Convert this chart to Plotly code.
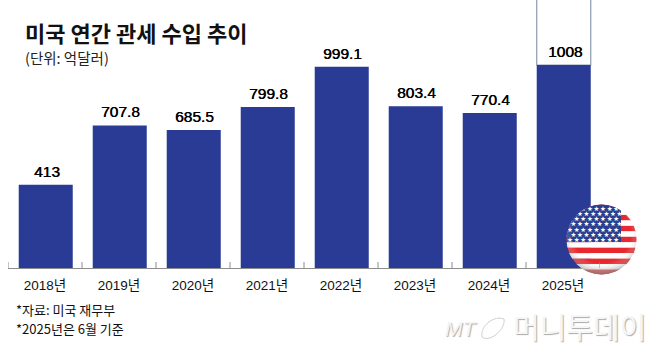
import base64
import plotly.graph_objects as go

categories = ["2018년", "2019년", "2020년", "2021년", "2022년", "2023년", "2024년", "2025년"]
values = [413, 707.8, 685.5, 799.8, 999.1, 803.4, 770.4, 1008]
value_labels = ["413", "707.8", "685.5", "799.8", "999.1", "803.4", "770.4", "1008"]
title_text = "미국 연간 관세 수입 추이"
unit_text = "(단위: 억달러)"
notes = ["*자료: 미국 재무부", "*2025년은 6월 기준"]
watermark = "머니투데이"

W, H = 654, 352
L, PW, PH = 8, 592, 268
FONT = "Liberation Sans, Noto Sans CJK KR, sans-serif"
KFONT = "Noto Sans CJK KR, sans-serif"

stripes = ""
for i in range(13):
    c = "#e8282e" if i % 2 == 0 else "#ffffff"
    stripes += f'<rect x="0" y="{i*71/13:.2f}" width="71" height="{71/13+0.2:.2f}" fill="{c}"/>'
stars = ""
for r in range(7):
    for c in range(8):
        stars += f'<text x="{4+c*6.6+(r%2)*3.3:.1f}" y="{6.5+r*5.3:.1f}" font-size="6.5" fill="#fff" text-anchor="middle" font-family="DejaVu Sans">★</text>'
svg = f'''<svg xmlns="http://www.w3.org/2000/svg" width="72" height="72" viewBox="0 0 72 72">
<defs><clipPath id="c"><circle cx="35.5" cy="35.5" r="35"/></clipPath>
<radialGradient id="g" cx="50%" cy="42%" r="58%"><stop offset="72%" stop-color="#fff" stop-opacity="0"/><stop offset="100%" stop-color="#777" stop-opacity=".5"/></radialGradient>
<linearGradient id="b" x1="0" y1="0" x2="0" y2="1"><stop offset="84%" stop-color="#fff" stop-opacity="0"/><stop offset="100%" stop-color="#666" stop-opacity=".65"/></linearGradient>
</defs><g clip-path="url(#c)">{stripes}<rect x="0" y="0" width="55" height="38" fill="#2b3f8f"/>{stars}
<rect width="72" height="72" fill="url(#b)"/><circle cx="35.5" cy="35.5" r="35" fill="url(#g)"/></g></svg>'''
flag_uri = "data:image/svg+xml;base64," + base64.b64encode(svg.encode()).decode()

fig = go.Figure(go.Bar(
    x=categories, y=values, width=0.73, offset=-0.355, marker=dict(color="#2a3b96", line=dict(width=0)),
    cliponaxis=False,
))

def ax(px):
    return (px - L) / PW
def ay(py):
    return 1 - py / PH

shapes = [
    dict(type="rect", xref="x", yref="paper", x0=6.645, x1=7.375, y0=ay(65), y1=ay(-2),
         fillcolor="#fff", line=dict(color="#8a9ab0", width=1.2), layer="below"),
    dict(type="path", xref="paper", yref="paper",
         path=f"M {ax(482)} {ay(337)} C {ax(480)} {ay(325)}, {ax(495)} {ay(315)}, {ax(504)} {ay(319)} "
              f"C {ax(506)} {ay(329)}, {ax(490)} {ay(343)}, {ax(482)} {ay(337)} Z",
         line=dict(color="#cfcfcf", width=1)),
]
for i in range(9):
    shapes.append(dict(type="line", xref="x", yref="paper", x0=i - 0.5, x1=i - 0.5, y0=0, y1=ay(262),
                       line=dict(color="#8c8c8c", width=1)))
annos = [
    dict(text=f"<b>{title_text}</b>", x=ax(23), y=ay(32), font=dict(size=22, family=KFONT, color="#111")),
    dict(text=unit_text, x=ax(23), y=ay(57), font=dict(size=14.5, family=KFONT, color="#222")),
    dict(text=notes[0], x=ax(14), y=ay(309), font=dict(size=13, family=KFONT, color="#111")),
    dict(text=notes[1], x=ax(14), y=ay(328), font=dict(size=13, family=KFONT, color="#111")),
    dict(text="<i>MT</i>", x=ax(443), y=ay(328), font=dict(size=21, family=FONT, color="#f4f4f4", shadow="1px 1px 1px #aaa")),
    dict(text=watermark, x=ax(511), y=ay(326), font=dict(size=29, family=KFONT, color="#f6f6f6", shadow="1px 1px 1px #aaa")),
]
for a in annos:
    a.update(xref="paper", yref="paper", xanchor="left", yanchor="middle", showarrow=False)
for c, v, t in zip(categories, values, value_labels):
    annos.append(dict(text=t, x=c, y=v, xref="x", yref="y", xanchor="center", yanchor="bottom", showarrow=False,
                      xshift=1.5, yshift=3, font=dict(family=FONT, size=15.5, color="#000", shadow="0.4px 0 0 #000")))

fig.update_layout(
    width=W, height=H, autosize=False,
    margin=dict(l=L, r=W - L - PW, t=0, b=H - PH, pad=0),
    paper_bgcolor="#fff", plot_bgcolor="#fff",
    showlegend=False, bargap=0.27,
    xaxis=dict(type="category", range=[-0.5, 7.5], showgrid=False, showline=True, linecolor="#8c8c8c", linewidth=1,
               ticks="", tickfont=dict(family=FONT, size=13.5, color="#111"), ticklabelstandoff=5),
    yaxis=dict(range=[0, 1331], visible=False, showgrid=False, fixedrange=True),
    shapes=shapes, annotations=annos,
    images=[dict(source=flag_uri, xref="paper", yref="paper", x=ax(566), y=ay(204), sizex=72 / PW, sizey=72 / PH,
                 xanchor="left", yanchor="top", sizing="stretch", layer="above")],
)
fig.write_html("out.html", config=dict(displayModeBar=False),
               post_script="document.body.style.margin='0';")
